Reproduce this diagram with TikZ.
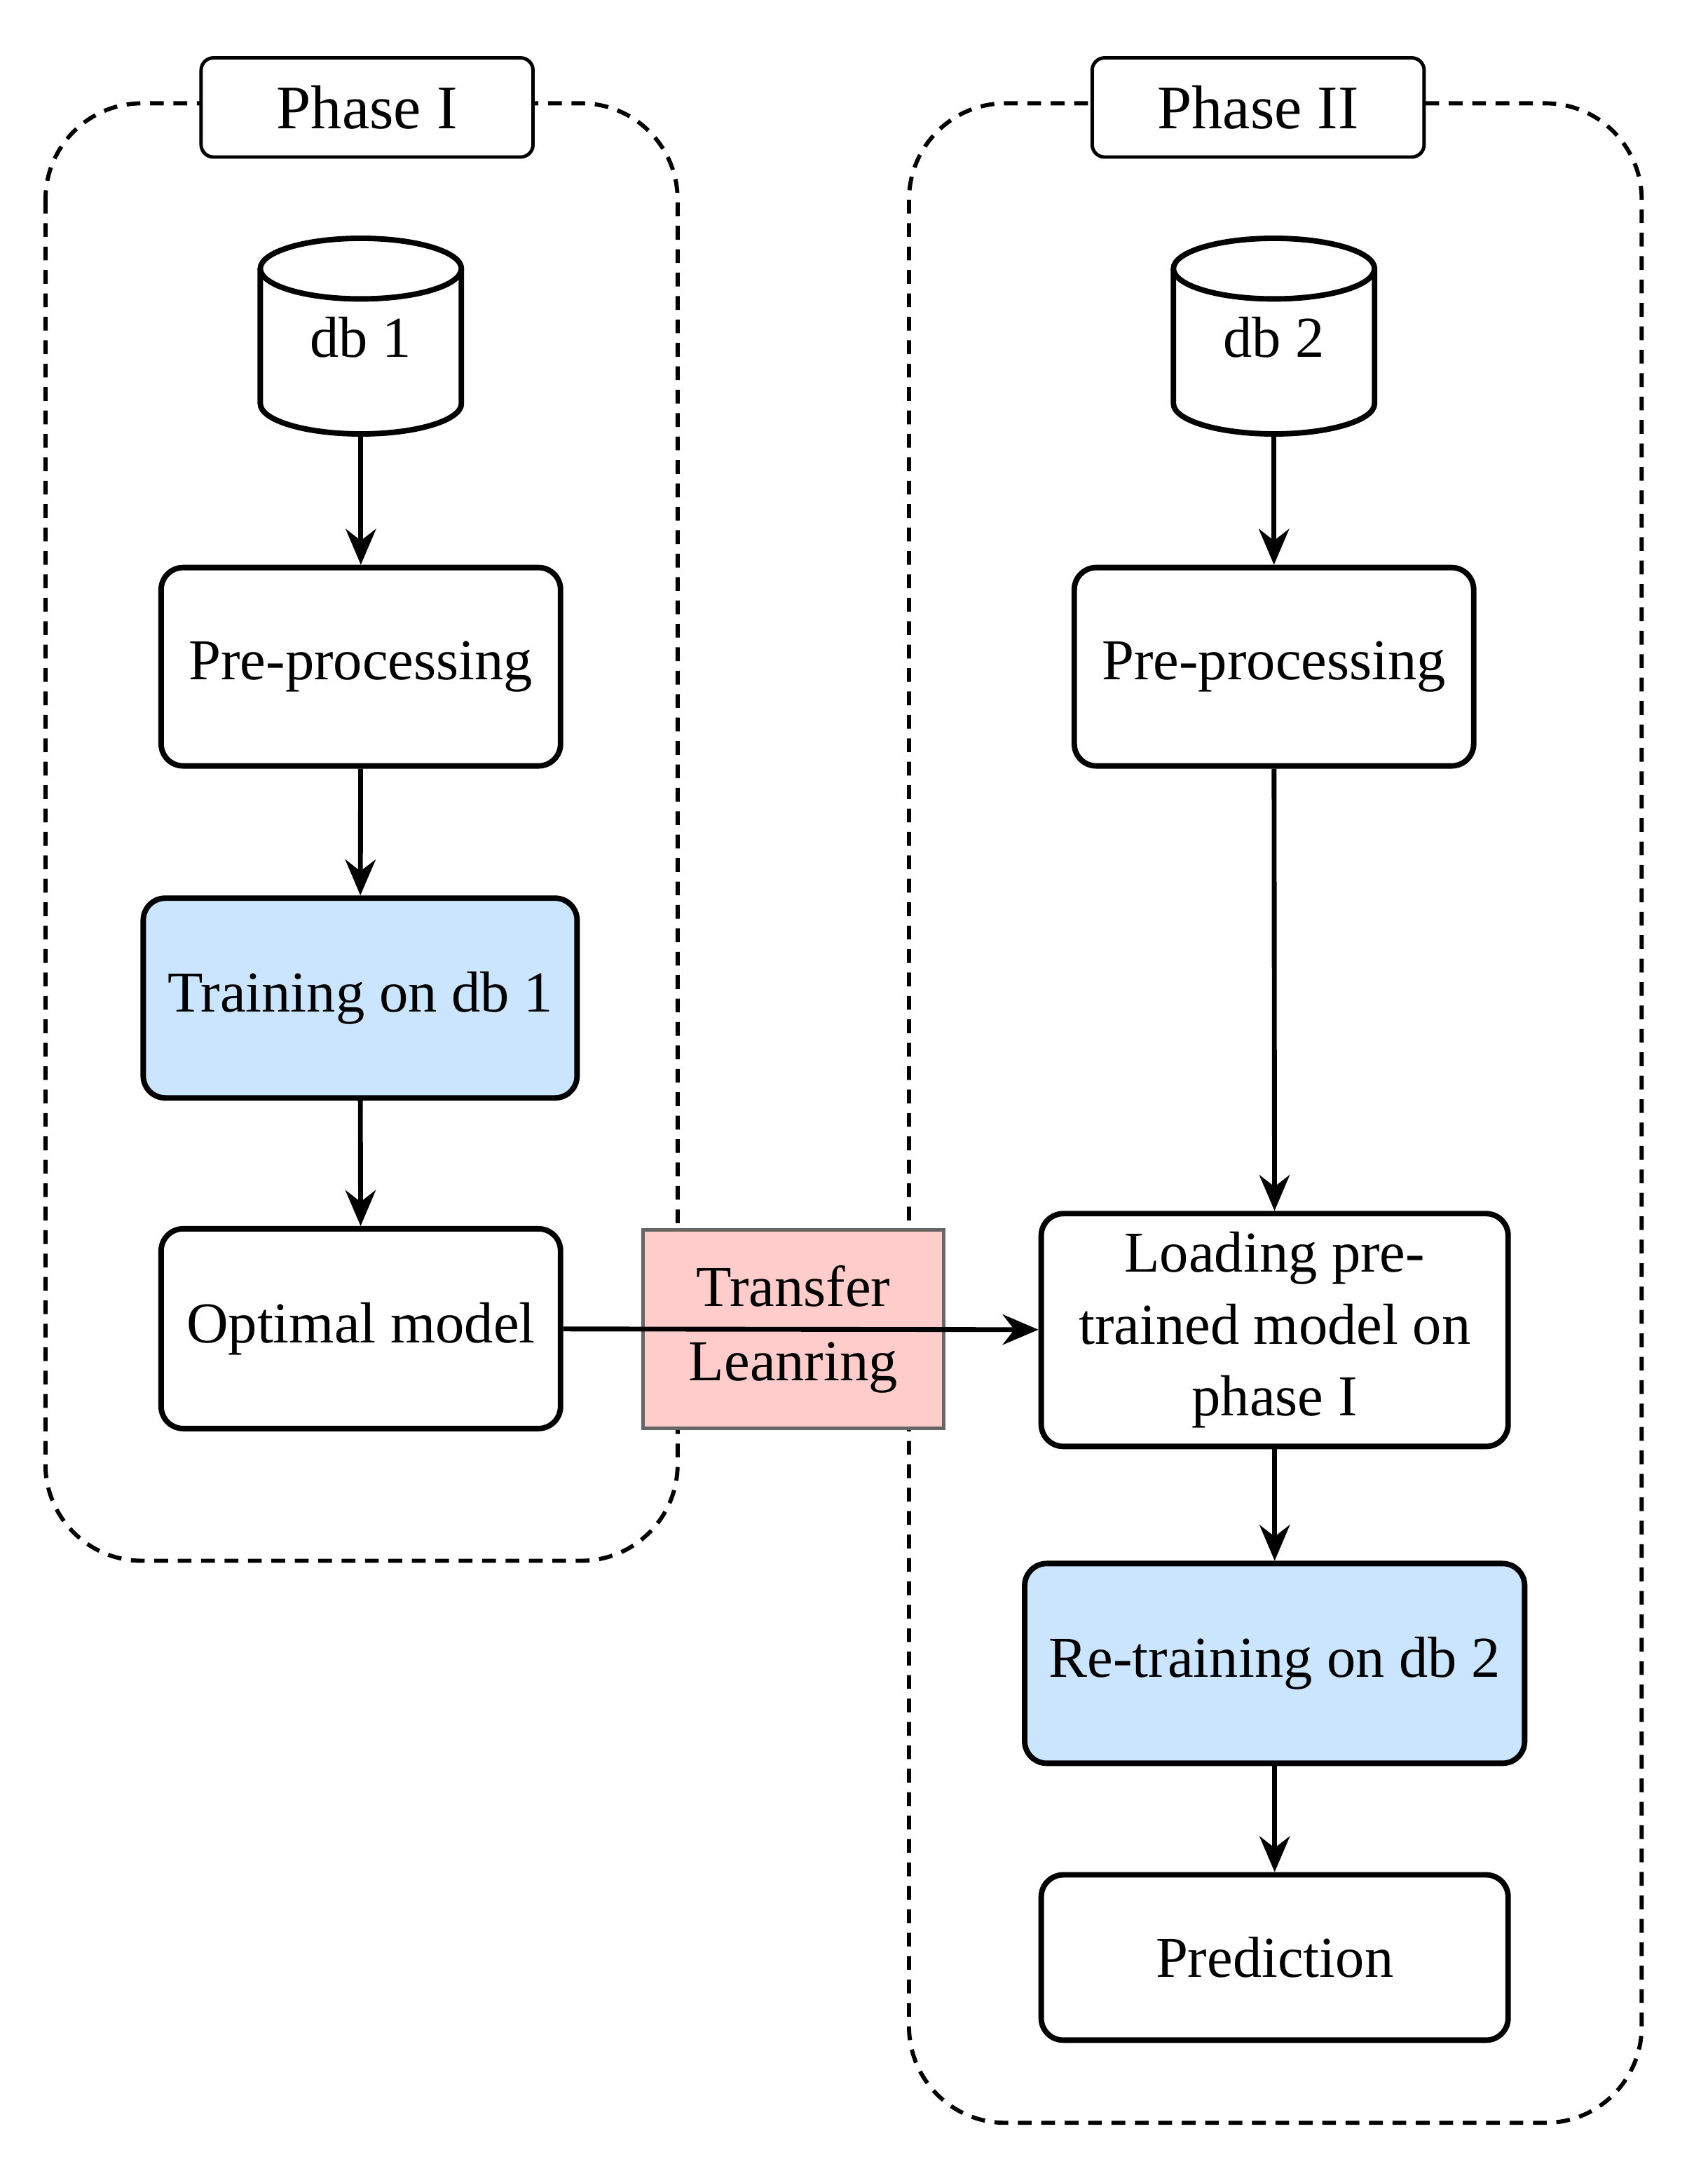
\documentclass[tikz,border=0pt]{standalone}
\usepackage{fontspec}
\setmainfont{Liberation Serif}
\usetikzlibrary{arrows.meta}
\begin{document}
\begin{tikzpicture}[x=1pt,y=-1pt,
  box/.style={draw,line width=4pt,rounded corners=16pt,align=center,font=\fontsize{42}{50}\selectfont,inner sep=0pt},
  phasebox/.style={dashed,line width=3pt,dash pattern=on 10pt off 7pt,rounded corners=70pt},
  lab/.style={draw,line width=2.5pt,rounded corners=9pt,fill=white,minimum width=241pt,minimum height=72pt,font=\fontsize{45}{54}\selectfont},
  arr/.style={-{Stealth[length=26pt,width=22pt]},line width=3.5pt}]
\useasboundingbox (0,0) rectangle (1240,1576);
\definecolor{lb}{HTML}{CCE5FF}\definecolor{lr}{HTML}{FFCCCC}
\draw[phasebox] (33,75) rectangle (492,1133);
\draw[phasebox] (660,75) rectangle (1192,1541);
\node[lab] (p1) at (266.5,78) {Phase I};
\node[lab] (p2) at (913.5,78) {Phase II};
\foreach \n/\cx/\t in {db1/262/db 1,db2/925/db 2}{
  \draw[line width=4pt,fill=white] (\cx-73,195) -- (\cx-73,293) arc[start angle=180,end angle=0,x radius=73,y radius=22] -- (\cx+73,195);
  \draw[line width=4pt,fill=white] (\cx,195) ellipse[x radius=73,y radius=22];
  \node[font=\fontsize{42}{50}\selectfont] (\n) at (\cx,245) {\t};
  \coordinate (\n b) at (\cx,315);
}
\node[box,minimum width=290pt,minimum height=144pt] (pre1) at (262,484) {Pre-processing};
\node[box,fill=lb,minimum width=315pt,minimum height=145pt] (tr) at (261.5,724.5) {Training on db 1};
\node[box,minimum width=290pt,minimum height=145pt] (opt) at (262,964.5) {Optimal model};
\node[draw=black!60,line width=2.5pt,fill=lr,minimum width=218pt,minimum height=144pt,align=center,font=\fontsize{42}{54}\selectfont,inner sep=0pt] (tl) at (576,965) {Transfer\\Leanring};
\node[box,minimum width=290pt,minimum height=144pt] (pre2) at (925,484) {Pre-processing};
\node[box,minimum width=339pt,minimum height=169pt,font=\fontsize{42}{52}\selectfont] (load) at (925.5,965.5) {Loading pre-\\trained model on\\phase I};
\node[box,fill=lb,minimum width=363pt,minimum height=145pt] (re) at (925.5,1207.5) {Re-training on db 2};
\node[box,minimum width=339pt,minimum height=120pt] (pred) at (925.5,1421) {Prediction};
\draw[arr] (db1b) -- (pre1);
\draw[arr] (pre1) -- (tr);
\draw[arr] (tr) -- (opt);
\draw[arr] (opt) -- (load);
\draw[arr] (db2b) -- (pre2);
\draw[arr] (pre2) -- (load);
\draw[arr] (load) -- (re);
\draw[arr] (re) -- (pred);
\end{tikzpicture}
\end{document}
